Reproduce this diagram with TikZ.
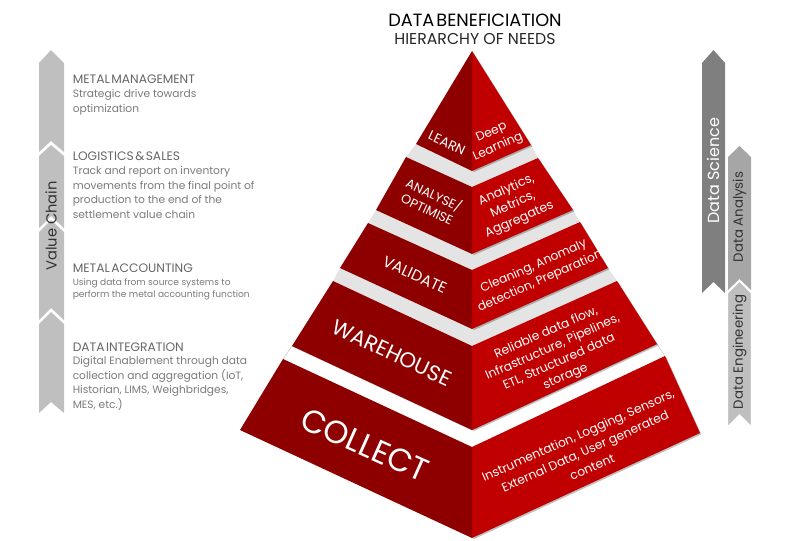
\documentclass[tikz,border=0pt]{standalone}
\usepackage{fontspec}
\setmainfont{Poppins}
\usetikzlibrary{shadows}
\definecolor{darkface}{HTML}{8E0000}
\definecolor{lightface}{HTML}{C00000}
\definecolor{bandgrey}{HTML}{E4E4E4}
\definecolor{chevA}{HTML}{BFBFBF}
\definecolor{chevB}{HTML}{7F7F7F}
\definecolor{chevC}{HTML}{A6A6A6}
\definecolor{bodytxt}{HTML}{7A7A7A}
\definecolor{headtxt}{HTML}{666666}
\newcommand\tightwords{\spaceskip=.12em\relax}
\newcommand\headfont{\fontsize{9.2}{10.5}\selectfont\tightwords}
\tikzset{
  x=0.75pt,y=-0.75pt,
  darkpanel/.style={fill=darkface,draw=none},
  lightpanel/.style={fill=lightface,draw=none,drop shadow={shadow xshift=1pt,shadow yshift=-1pt,fill=black,opacity=.25}},
  band/.style={fill=bandgrey,draw=none},
  pylabel/.style={text=white,align=center,inner sep=0pt,font=\fontsize{#1}{12}\selectfont},
  sidehead/.style={text=headtxt,anchor=west,inner sep=0pt,font=\headfont},
  sidebody/.style={text=bodytxt,anchor=north west,inner sep=0pt,align=left,font=\fontsize{8}{10.8}\selectfont},
  chevlabel/.style={rotate=90,inner sep=0pt},
}
\begin{document}
\begin{tikzpicture}
\useasboundingbox (0,0) rectangle (799,540);
% gaps
\fill[band] (416,144) -- (406,157) -- (472,187) -- (538,158) -- (531,145) -- (472,171) -- cycle;
\fill[band] (376,210) -- (368,223) -- (472,270) -- (580,222) -- (573,210) -- (472,254) -- cycle;
\fill[band] (340,268) -- (333,281) -- (472,346) -- (617,281) -- (608,268) -- (472,329) -- cycle;
\draw[bandgrey!80!gray,line width=.5pt] (292,346) -- (283,359);
\draw[bandgrey!80!gray,line width=.5pt] (657,344) -- (665,356);
\draw[black!25,line width=.5pt] (292,346) -- (472,430) -- (657,344);
% right faces
\fill[lightpanel] (472,51) -- (531,145) -- (472,171) -- cycle;
\fill[lightpanel] (472,187) -- (538,158) -- (573,210) -- (472,254) -- cycle;
\fill[lightpanel] (472,270) -- (580,222) -- (608,268) -- (472,329) -- cycle;
\fill[lightpanel] (472,346) -- (617,281) -- (657,344) -- (472,430) -- cycle;
\fill[lightpanel] (472,447) -- (665,356) -- (700,433) -- (472,538) -- cycle;
% left faces
\fill[darkpanel] (472,51) -- (416,144) -- (472,171) -- cycle;
\fill[darkpanel] (406,157) -- (376,210) -- (472,254) -- (472,187) -- cycle;
\fill[darkpanel] (368,223) -- (340,268) -- (472,329) -- (472,270) -- cycle;
\fill[darkpanel] (333,281) -- (292,346) -- (472,430) -- (472,346) -- cycle;
\fill[darkpanel] (283,359) -- (240,430) -- (472,538) -- (472,447) -- cycle;
% title
\node[inner sep=0pt,text=black] (title) at (475,20) {\fontsize{13.3}{14}\selectfont\tightwords DATA BENEFICIATION};
\node[inner sep=0pt,text=black!85] (subtitle) at (475,39) {\fontsize{11.8}{12}\selectfont HIERARCHY OF NEEDS};
% pyramid labels
\node[pylabel=10,rotate=-25] (learn) at (447,143) {LEARN};
\node[pylabel=9.6,rotate=-25] (analyse) at (431,201) {ANALYSE/\\OPTIMISE};
\node[pylabel=11.5,rotate=-25] (validate) at (415,275) {VALIDATE};
\node[pylabel=16,rotate=-25] (warehouse) at (392,353) {WAREHOUSE};
\node[pylabel=24,rotate=-24] (collect) at (365,445) {COLLECT};
\node[pylabel=9.2,rotate=24] (deep) at (495,140) {Deep\\Learning};
\node[pylabel=9.4,rotate=24] (metrics) at (513,205) {Analytics,\\Metrics,\\Aggregates};
\node[pylabel=9.1,rotate=24] (clean) at (537,274) {Cleaning, Anomaly\\detection, Preparation};
\node[pylabel=9.2,rotate=24] (flow) at (556,355) {Reliable data flow,\\Infrastructure, Pipelines,\\ETL, Structured data\\storage};
\node[pylabel=9.2,rotate=24,font=\fontsize{9.2}{13}\selectfont] (instr) at (585,451) {Instrumentation, Logging, Sensors,\\External Data, User generated\\content};
% value chain
\fill[chevA] (51,50) -- (64,63) -- (64,152) -- (51,141) -- (39,152) -- (39,63) -- cycle;
\fill[chevA] (51,145) -- (64,156) -- (64,228) -- (51,216) -- (39,228) -- (39,156) -- cycle;
\fill[chevA] (51,220) -- (64,232) -- (64,320) -- (51,308) -- (39,320) -- (39,232) -- cycle;
\fill[chevA] (51,312) -- (64,324) -- (64,413) -- (51,402) -- (39,413) -- (39,324) -- cycle;
\node[chevlabel,text=black!80] (vc) at (51,226) {\fontsize{11}{13}\selectfont Value Chain};
% side text
\node[sidehead] (h1) at (72.5,79.5) {METAL MANAGEMENT};
\node[sidebody] (b1) at (72.5,89.5) {Strategic drive towards\\optimization};
\node[sidehead] (h2) at (72.5,156.5) {LOGISTICS \& SALES};
\node[sidebody] (b2) at (72.5,166.5) {Track and report on inventory\\movements from the final point of\\production to the end of the\\settlement value chain};
\node[sidehead] (h3) at (72.5,268.5) {METAL ACCOUNTING};
\node[sidebody,font=\fontsize{6.8}{9.5}\selectfont] (b3) at (72.5,278) {Using data from source systems to\\perform the metal accounting function};
\node[sidehead] (h4) at (72.5,347) {DATA INTEGRATION};
\node[sidebody] (b4) at (72.5,356.5) {Digital Enablement through data\\collection and aggregation (IoT,\\Historian, LIMS, Weighbridges,\\MES, etc.)};
% right chevrons
\fill[chevB] (713.5,50) -- (725,63) -- (725,293) -- (713.5,282) -- (702,293) -- (702,63) -- cycle;
\fill[chevC] (739.5,146) -- (751,157) -- (751,290) -- (739.5,279) -- (728,290) -- (728,157) -- cycle;
\fill[chevA,draw=white,line width=1pt] (739.5,281) -- (751.5,293) -- (751.5,427) -- (739.5,415) -- (727.5,427) -- (727.5,293) -- cycle;
\node[chevlabel,text=white] (ds) at (713.5,171) {\fontsize{12}{14}\selectfont Data Science};
\node[chevlabel,text=black!80] (da) at (739.5,217) {\fontsize{10}{10}\selectfont Data Analysis};
\node[chevlabel,text=black!80] (de) at (739.5,352) {\fontsize{10}{10}\selectfont Data Engineering};
\end{tikzpicture}
\end{document}
